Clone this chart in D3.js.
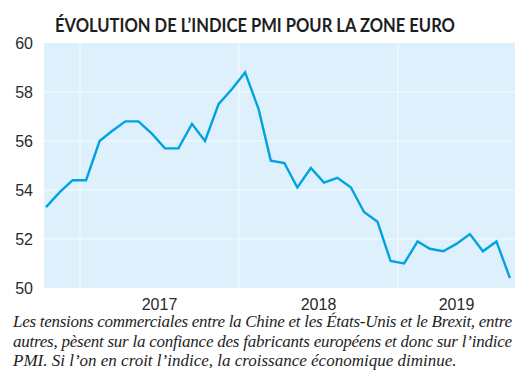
<!DOCTYPE html>
<html>
<head>
<meta charset="utf-8">
<script src="https://cdn.jsdelivr.net/npm/d3@7/dist/d3.min.js"></script>
<style>
  html, body { margin: 0; padding: 0; background: #ffffff; }
  svg { display: block; }
</style>
</head>
<body>
<div id="chart"></div>
<script>
// ---- Data (Eurozone PMI, monthly, Oct 2016 – Sep 2019) ----
const startYear = 2016;
const startMonth = 9; // October (0-based)
const pmiValues = [53.3, 53.9, 54.4, 54.4, 56.0, 56.4, 56.8, 56.8, 56.3, 55.7, 55.7, 56.7,
                   56.0, 57.5, 58.1, 58.8, 57.3, 55.2, 55.1, 54.1, 54.9, 54.3, 54.5, 54.1,
                   53.1, 52.7, 51.1, 51.0, 51.9, 51.6, 51.5, 51.8, 52.2, 51.5, 51.9, 50.4];
const yTicks = [50, 52, 54, 56, 58, 60];
const yearLabels = ["2017", "2018", "2019"];
const titleText = "ÉVOLUTION DE L’INDICE PMI POUR LA ZONE EURO";
const captionLines = [
  "Les tensions commerciales entre la Chine et les États-Unis et le Brexit, entre",
  "autres, pèsent sur la confiance des fabricants européens et donc sur l’indice",
  "PMI. Si l’on en croit l’indice, la croissance économique diminue."
];

// ---- Layout ----
const W = 529, H = 377;
const plot = { left: 44, right: 515, top: 43, bottom: 288 };

const data = pmiValues.map((v, i) => ({
  date: new Date(startYear, startMonth + i, 15),
  value: v
}));

const svg = d3.select("#chart").append("svg")
  .attr("width", W).attr("height", H);

const x = d3.scaleTime()
  .domain([new Date(2017, 0, 1), new Date(2019, 0, 1)])
  .range([80, 398]);
const y = d3.scaleLinear().domain([50, 60]).range([plot.bottom, plot.top]);

// Title
svg.append("text")
  .attr("x", 55).attr("y", 32)
  .attr("textLength", 400)
  .attr("lengthAdjust", "spacingAndGlyphs")
  .style("font-family", "Lato, 'Open Sans', sans-serif")
  .style("font-weight", 700)
  .style("font-size", "18px")
  .style("fill", "#1e1e1e")
  .text(titleText);

// Plot background
svg.append("rect")
  .attr("x", plot.left).attr("y", plot.top)
  .attr("width", plot.right - plot.left).attr("height", plot.bottom - plot.top)
  .attr("fill", "#dff0fd");

// Horizontal gridlines
svg.append("g").selectAll("line")
  .data(yTicks.filter(t => t > 50 && t < 60))
  .join("line")
  .attr("x1", plot.left).attr("x2", plot.right)
  .attr("y1", d => y(d)).attr("y2", d => y(d))
  .attr("stroke", "#f6fbff").attr("stroke-width", 1);

// Vertical gridlines at year boundaries
const yearStarts = yearLabels.map(s => new Date(+s, 0, 1));
svg.append("g").selectAll("line")
  .data(yearStarts)
  .join("line")
  .attr("x1", d => x(d)).attr("x2", d => x(d))
  .attr("y1", plot.top).attr("y2", plot.bottom)
  .attr("stroke", "#f6fbff").attr("stroke-width", 1);

// Y axis labels
const yAxis = d3.axisLeft(y).tickValues(yTicks).tickSize(0).tickPadding(0);
const gy = svg.append("g").attr("transform", `translate(33,0)`).call(yAxis);
gy.select(".domain").remove();
gy.selectAll("text")
  .style("font-family", "'Liberation Sans', Arial, sans-serif")
  .style("font-size", "16px")
  .style("fill", "#2a2a2a");

// Year labels centred in the visible part of each year
svg.append("g").selectAll("text")
  .data(yearLabels)
  .join("text")
  .attr("x", d => {
    const a = Math.max(plot.left, x(new Date(+d, 0, 1)));
    const b = Math.min(plot.right, x(new Date(+d + 1, 0, 1)));
    return (a + b) / 2;
  })
  .attr("y", 310)
  .attr("text-anchor", "middle")
  .style("font-family", "'Liberation Sans', Arial, sans-serif")
  .style("font-size", "16px")
  .style("fill", "#2a2a2a")
  .text(d => d);

// Line
const line = d3.line().x(d => x(d.date)).y(d => y(d.value));
svg.append("path")
  .datum(data)
  .attr("d", line)
  .attr("fill", "none")
  .attr("stroke", "#00a3e2")
  .attr("stroke-width", 2.4)
  .attr("stroke-linejoin", "miter");

// Caption
svg.append("g").selectAll("text")
  .data(captionLines)
  .join("text")
  .attr("x", 13)
  .attr("y", (d, i) => 327 + i * 19.5)
  .each(function(d, i) {
    if (i < captionLines.length - 1) {
      d3.select(this).attr("textLength", 499).attr("lengthAdjust", "spacing");
    }
  })
  .style("font-family", "'Liberation Serif', 'Times New Roman', serif")
  .style("font-style", "italic")
  .style("font-size", "17px")
  .style("fill", "#1e1e1e")
  .text(d => d);
</script>
</body>
</html>
